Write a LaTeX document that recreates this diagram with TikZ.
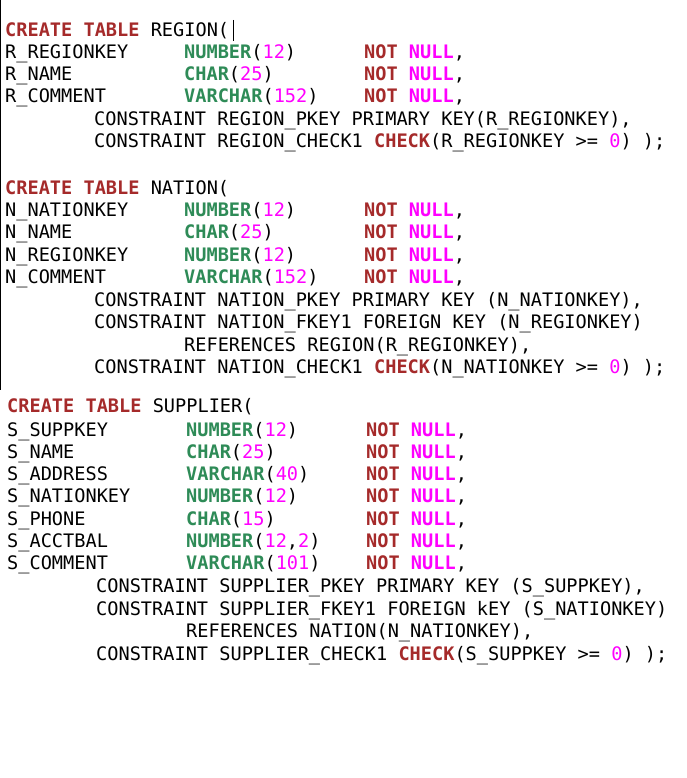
\documentclass[tikz,border=0pt]{standalone}
\usepackage{fontspec}
\setmainfont{DejaVu Sans Mono}
\definecolor{kwc}{HTML}{A52A2A}
\definecolor{tyc}{HTML}{2E8B57}
\definecolor{nmc}{HTML}{FF00FF}
\newcommand\kw[1]{\textbf{\color{kwc}#1}}
\newcommand\ty[1]{\textbf{\color{tyc}#1}}
\newcommand\nm[1]{{\color{nmc}#1}}
\newcommand\nn{\kw{NOT} \textbf{\color{nmc}NULL},}
\tikzset{txt/.style={anchor=base west,inner sep=0pt,font=\fontsize{18.6}{20}\selectfont}}
\begin{document}
\begin{tikzpicture}[x=1pt,y=1pt]
\useasboundingbox (0,0) rectangle (687,-778);
\fill[white] (0,0) rectangle (687,-778);
\draw[line width=1pt] (0.5,0) -- (0.5,-390);
\draw[line width=0.8pt] (233,-20) -- (233,-41);
% block 1
\node[txt] (a0) at (5,-36.5) {\kw{CREATE TABLE} REGION(};
\node[txt] (a1) at (5,-58.5) {R\_REGIONKEY};
\node[txt] (a1t) at (184,-58.5) {\ty{NUMBER}(\nm{12})};
\node[txt] (a1n) at (364,-58.5) {\nn};
\node[txt] (a2) at (5,-81) {R\_NAME};
\node[txt] (a2t) at (184,-81) {\ty{CHAR}(\nm{25})};
\node[txt] (a2n) at (364,-81) {\nn};
\node[txt] (a3) at (5,-103) {R\_COMMENT};
\node[txt] (a3t) at (184,-103) {\ty{VARCHAR}(\nm{152})};
\node[txt] (a3n) at (364,-103) {\nn};
\node[txt] (a4) at (94,-126) {CONSTRAINT REGION\_PKEY PRIMARY KEY(R\_REGIONKEY),};
\node[txt] (a5) at (94,-148) {CONSTRAINT REGION\_CHECK1 \kw{CHECK}(R\_REGIONKEY >= \nm{0}) );};
% block 2
\node[txt] (b0) at (5,-194) {\kw{CREATE TABLE} NATION(};
\node[txt] (b1) at (5,-216) {N\_NATIONKEY};
\node[txt] (b1t) at (184,-216) {\ty{NUMBER}(\nm{12})};
\node[txt] (b1n) at (364,-216) {\nn};
\node[txt] (b2) at (5,-238) {N\_NAME};
\node[txt] (b2t) at (184,-238) {\ty{CHAR}(\nm{25})};
\node[txt] (b2n) at (364,-238) {\nn};
\node[txt] (b3) at (5,-261) {N\_REGIONKEY};
\node[txt] (b3t) at (184,-261) {\ty{NUMBER}(\nm{12})};
\node[txt] (b3n) at (364,-261) {\nn};
\node[txt] (b4) at (5,-283) {N\_COMMENT};
\node[txt] (b4t) at (184,-283) {\ty{VARCHAR}(\nm{152})};
\node[txt] (b4n) at (364,-283) {\nn};
\node[txt] (b5) at (94,-306) {CONSTRAINT NATION\_PKEY PRIMARY KEY (N\_NATIONKEY),};
\node[txt] (b6) at (94,-328) {CONSTRAINT NATION\_FKEY1 FOREIGN KEY (N\_REGIONKEY)};
\node[txt] (b7) at (184,-351) {REFERENCES REGION(R\_REGIONKEY),};
\node[txt] (b8) at (94,-373) {CONSTRAINT NATION\_CHECK1 \kw{CHECK}(N\_NATIONKEY >= \nm{0}) );};
% block 3
\node[txt] (c0) at (7,-412) {\kw{CREATE TABLE} SUPPLIER(};
\node[txt] (c1) at (7,-436) {S\_SUPPKEY};
\node[txt] (c1t) at (186,-436) {\ty{NUMBER}(\nm{12})};
\node[txt] (c1n) at (366,-436) {\nn};
\node[txt] (c2) at (7,-458) {S\_NAME};
\node[txt] (c2t) at (186,-458) {\ty{CHAR}(\nm{25})};
\node[txt] (c2n) at (366,-458) {\nn};
\node[txt] (c3) at (7,-480) {S\_ADDRESS};
\node[txt] (c3t) at (186,-480) {\ty{VARCHAR}(\nm{40})};
\node[txt] (c3n) at (366,-480) {\nn};
\node[txt] (c4) at (7,-502) {S\_NATIONKEY};
\node[txt] (c4t) at (186,-502) {\ty{NUMBER}(\nm{12})};
\node[txt] (c4n) at (366,-502) {\nn};
\node[txt] (c5) at (7,-525) {S\_PHONE};
\node[txt] (c5t) at (186,-525) {\ty{CHAR}(\nm{15})};
\node[txt] (c5n) at (366,-525) {\nn};
\node[txt] (c6) at (7,-547) {S\_ACCTBAL};
\node[txt] (c6t) at (186,-547) {\ty{NUMBER}(\nm{12},\nm{2})};
\node[txt] (c6n) at (366,-547) {\nn};
\node[txt] (c7) at (7,-569) {S\_COMMENT};
\node[txt] (c7t) at (186,-569) {\ty{VARCHAR}(\nm{101})};
\node[txt] (c7n) at (366,-569) {\nn};
\node[txt] (c8) at (96,-592) {CONSTRAINT SUPPLIER\_PKEY PRIMARY KEY (S\_SUPPKEY),};
\node[txt] (c9) at (96,-615) {CONSTRAINT SUPPLIER\_FKEY1 FOREIGN kEY (S\_NATIONKEY)};
\node[txt] (c10) at (186,-637) {REFERENCES NATION(N\_NATIONKEY),};
\node[txt] (c11) at (96,-660) {CONSTRAINT SUPPLIER\_CHECK1 \kw{CHECK}(S\_SUPPKEY >= \nm{0}) );};
\end{tikzpicture}
\end{document}
